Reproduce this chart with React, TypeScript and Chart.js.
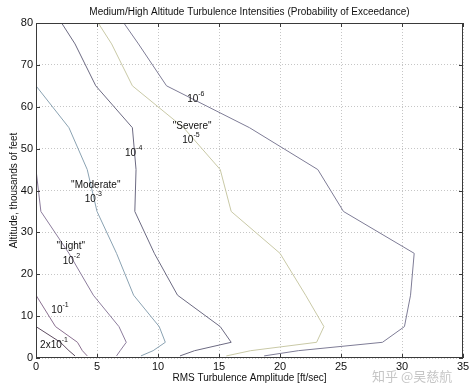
import React, { useEffect, useRef } from 'react';
import { Chart, registerables } from 'chart.js';

Chart.register(...registerables);

// Altitude breakpoints (thousands of feet)
const altitudes = [0.5, 1.75, 3.75, 7.5, 15, 25, 35, 45, 55, 65, 75, 80];

// RMS turbulence amplitude (ft/sec) for each probability of exceedance
const sigma2e1 = [3.2, 2.7, 2.0, 0, 0, 0, 0, 0, 0, 0, 0, 0];
const sigma1e1 = [4.2, 3.8, 3.4, 1.6, 0, 0, 0, 0, 0, 0, 0, 0];
const sigma1e2 = [6.6, 6.9, 7.4, 6.8, 4.7, 2.7, 0.4, 0, 0, 0, 0, 0];
const sigma1e3 = [8.6, 9.6, 10.6, 10.1, 8.0, 6.6, 5.0, 4.2, 2.7, 0, 0, 0];
const sigma1e4 = [11.8, 13.0, 16.0, 15.1, 11.6, 9.7, 8.1, 8.2, 7.9, 4.9, 3.2, 2.1];
const sigma1e5 = [15.6, 17.6, 23.0, 23.6, 22.1, 20.0, 16.0, 15.1, 12.1, 7.9, 6.2, 5.1];
const sigma1e6 = [18.7, 21.5, 28.4, 30.2, 30.7, 31.0, 25.2, 23.1, 17.5, 10.7, 8.4, 7.2];

const seriesNames = ['2x10^-1', '10^-1', '10^-2', '10^-3', '10^-4', '10^-5', '10^-6'];
const seriesValues = [sigma2e1, sigma1e1, sigma1e2, sigma1e3, sigma1e4, sigma1e5, sigma1e6];
const seriesColors = ['#5e4c60', '#8a7090', '#8c7c9c', '#8aa2b2', '#6c6a82', '#c9c9a6', '#7e7c96'];

// Axis ticks
const xTickValues = [0, 5, 10, 15, 20, 25, 30, 35];
const yTickValues = [0, 10, 20, 30, 40, 50, 60, 70, 80];

const titleText = 'Medium/High Altitude Turbulence Intensities (Probability of Exceedance)';
const xTitle = 'RMS Turbulence Amplitude [ft/sec]';
const yTitle = 'Altitude, thousands of feet';
const watermark = '知乎 @吴慈航';

// In-plot annotations: base text, superscript, position (data units)
const annoBase = ['10', '"Severe"', '10', '10', '"Moderate"', '10', '"Light"', '10', '10', '2x10'];
const annoSup = ['-6', '', '-5', '-4', '', '-3', '', '-2', '-1', '-1'];
const annoX = [13.1, 12.8, 12.7, 8.0, 4.9, 4.7, 2.85, 2.9, 1.97, 1.48];
const annoY = [61.9, 55.4, 52.0, 48.9, 41.3, 37.9, 26.6, 23.1, 11.5, 3.1];

function buildPoints(values: number[]) {
  const pts: { x: number; y: number }[] = [];
  for (let i = 0; i < values.length; i++) {
    pts.push({ x: values[i], y: altitudes[i] });
    if (values[i] === 0) break;
  }
  return pts;
}

const FONT = 'Arial, "Liberation Sans", Helvetica, sans-serif';

const decorPlugin = {
  id: 'decor',
  afterDatasetsDraw(chart: any) {
    const { ctx, chartArea: a, scales } = chart;
    const xs = scales.x;
    const ys = scales.y;
    ctx.save();
    // frame
    ctx.strokeStyle = '#3a3a3a';
    ctx.lineWidth = 1;
    ctx.setLineDash([]);
    ctx.strokeRect(Math.round(a.left) + 0.5, Math.round(a.top) + 0.5, Math.round(a.right - a.left) - 1, Math.round(a.bottom - a.top) - 1);
    // inner ticks
    const tl = 4;
    ctx.beginPath();
    xTickValues.forEach((v) => {
      const px = Math.round(xs.getPixelForValue(v)) + 0.5;
      ctx.moveTo(px, a.bottom); ctx.lineTo(px, a.bottom - tl);
      ctx.moveTo(px, a.top); ctx.lineTo(px, a.top + tl);
    });
    yTickValues.forEach((v) => {
      const py = Math.round(ys.getPixelForValue(v)) + 0.5;
      ctx.moveTo(a.left, py); ctx.lineTo(a.left + tl, py);
      ctx.moveTo(a.right, py); ctx.lineTo(a.right - tl, py);
    });
    ctx.stroke();
    // annotations
    ctx.fillStyle = '#111';
    ctx.textBaseline = 'middle';
    ctx.textAlign = 'left';
    for (let i = 0; i < annoBase.length; i++) {
      const cx = xs.getPixelForValue(annoX[i]);
      const cy = ys.getPixelForValue(annoY[i]);
      ctx.font = `10px ${FONT}`;
      const wb = ctx.measureText(annoBase[i]).width;
      ctx.font = `7px ${FONT}`;
      const ws = annoSup[i] ? ctx.measureText(annoSup[i]).width : 0;
      const x0 = cx - (wb + ws) / 2;
      ctx.font = `10px ${FONT}`;
      ctx.fillText(annoBase[i], x0, cy);
      if (annoSup[i]) {
        ctx.font = `7px ${FONT}`;
        ctx.fillText(annoSup[i], x0 + wb, cy - 5);
      }
    }
    ctx.restore();
  },
  afterDraw(chart: any) {
    const { ctx, chartArea: a } = chart;
    ctx.save();
    ctx.fillStyle = '#111';
    ctx.font = `10px ${FONT}`;
    ctx.textAlign = 'center';
    ctx.textBaseline = 'middle';
    ctx.fillText(titleText, (a.left + a.right) / 2, 12);
    ctx.font = `13px "Noto Sans CJK SC", sans-serif`;
    ctx.fillStyle = 'rgba(150,150,150,0.55)';
    ctx.textAlign = 'left';
    ctx.fillText(watermark, 372, 376);
    ctx.restore();
  },
};

export default function App() {
  const ref = useRef<HTMLCanvasElement | null>(null);
  useEffect(() => {
    if (!ref.current) return;
    const datasets = seriesValues.map((vals, i) => ({
      label: seriesNames[i],
      data: buildPoints(vals),
      showLine: true,
      borderColor: seriesColors[i],
      backgroundColor: seriesColors[i],
      borderWidth: 1,
      pointRadius: 0,
      tension: 0,
      fill: false,
    }));
    const chart = new Chart(ref.current, {
      type: 'scatter',
      data: { datasets },
      options: {
        animation: false,
        responsive: false,
        maintainAspectRatio: false,
        layout: { padding: { top: 23, right: 11, bottom: 0, left: 0 } },
        plugins: { legend: { display: false }, tooltip: { enabled: false }, title: { display: false } },
        scales: {
          x: {
            type: 'linear',
            min: 0,
            max: 35,
            afterBuildTicks: (s: any) => { s.ticks = xTickValues.map((v) => ({ value: v })); },
            afterFit: (s: any) => { s.height = 33; },
            ticks: { font: { size: 11, family: FONT }, color: '#111', padding: 2 },
            grid: { color: '#c6c6c6', lineWidth: 1, drawTicks: false },
            border: { display: false, dash: [1, 2] },
            title: { display: true, text: xTitle, font: { size: 10, family: FONT }, color: '#111', padding: { top: 0, bottom: 7 } },
          },
          y: {
            type: 'linear',
            min: 0,
            max: 80,
            afterBuildTicks: (s: any) => { s.ticks = yTickValues.map((v) => ({ value: v })); },
            afterFit: (s: any) => { s.width = 36; },
            ticks: { font: { size: 11, family: FONT }, color: '#111', padding: 3 },
            grid: { color: '#c6c6c6', lineWidth: 1, drawTicks: false },
            border: { display: false, dash: [1, 2] },
            title: { display: true, text: yTitle, font: { size: 10, family: FONT }, color: '#111', padding: { top: 8, bottom: 0 } },
          },
        },
      },
      plugins: [decorPlugin],
    } as any);
    return () => chart.destroy();
  }, []);
  return (
    <div style={{ position: 'absolute', left: 0, top: 0, width: 474, height: 391, background: '#fff' }}>
      <canvas ref={ref} width={474} height={391} style={{ width: 474, height: 391, display: 'block' }} />
    </div>
  );
}
